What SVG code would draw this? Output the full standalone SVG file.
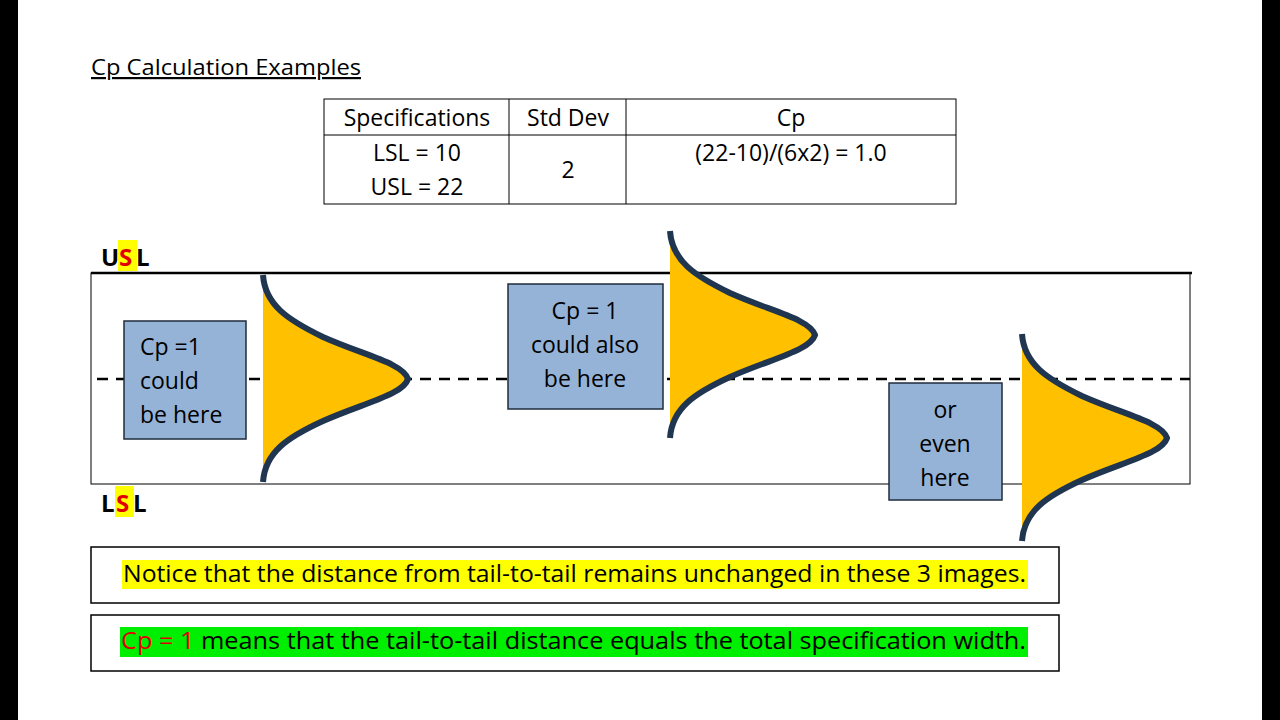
<svg xmlns="http://www.w3.org/2000/svg" width="1280" height="720" viewBox="0 0 1280 720">
<style>
text{font-family:"Open Sans","Liberation Sans",sans-serif;fill:#000}
.t{font-size:23px;text-anchor:middle}
.box{fill:#95b3d7;stroke:#1f2d3d;stroke-width:1.5}
.bell{fill:#ffc000}
.bs{fill:none;stroke:#1f3550;stroke-width:6;stroke-linecap:butt}
.cell{fill:#fff;stroke:#000;stroke-width:1}
.lim{font-size:24px;font-weight:bold}
</style>
<defs>
<path id="bf" d="M0,0 C2,30 25,45 60,62 C100,80 140,88 145,104 C140,120 100,128 60,146 C25,162 2,177 0,207 Z"/>
<path id="bl" d="M0,0 C2,30 25,45 60,62 C100,80 140,88 145,104 C140,120 100,128 60,146 C25,162 2,177 0,207"/>
</defs>
<rect width="1280" height="720" fill="#fff"/>
<rect x="0" y="0" width="18" height="720" fill="#000"/>
<rect x="1262" y="0" width="18" height="720" fill="#000"/>
<text x="91" y="75" font-size="22" text-decoration="underline" textLength="270" lengthAdjust="spacingAndGlyphs">Cp Calculation Examples</text>
<g id="table">
<rect class="cell" x="324" y="99" width="632" height="105"/>
<line x1="324" y1="135" x2="956" y2="135" stroke="#000"/>
<line x1="509" y1="99" x2="509" y2="204" stroke="#000"/>
<line x1="626" y1="99" x2="626" y2="204" stroke="#000"/>
<text class="t" x="417" y="126">Specifications</text>
<text class="t" x="568" y="126">Std Dev</text>
<text class="t" x="791" y="126">Cp</text>
<text class="t" x="417" y="161">LSL = 10</text>
<text class="t" x="417" y="195">USL = 22</text>
<text class="t" x="568" y="178">2</text>
<text class="t" x="791" y="161">(22-10)/(6x2) = 1.0</text>
</g>
<g id="spec">
<rect x="91" y="273" width="1099" height="211" fill="none" stroke="#000" stroke-width="1"/>
<line x1="91" y1="273" x2="1192" y2="273" stroke="#000" stroke-width="2.5"/>
<line x1="97" y1="379" x2="1190" y2="379" stroke="#000" stroke-width="2.5" stroke-dasharray="11,8"/>
<rect x="118" y="240" width="19" height="31" fill="#ffff00"/>
<text class="lim" y="266"><tspan x="101">U</tspan><tspan x="119" fill="#e00000">S</tspan><tspan x="136">L</tspan></text>
<rect x="115" y="486" width="19" height="31" fill="#ffff00"/>
<text class="lim" y="512"><tspan x="101">L</tspan><tspan x="116" fill="#e00000">S</tspan><tspan x="133">L</tspan></text>
</g>
<g id="bell1" transform="translate(263,275)"><use href="#bf" class="bell"/><use href="#bl" class="bs"/></g>
<g id="bell2" transform="translate(670,231)"><use href="#bf" class="bell"/><use href="#bl" class="bs"/></g>
<g id="bell3" transform="translate(1022,334)"><use href="#bf" class="bell"/><use href="#bl" class="bs"/></g>
<g id="box1"><rect class="box" x="124" y="321" width="122" height="118"/>
<text x="140" y="355" font-size="23">Cp =1</text><text x="140" y="389" font-size="23">could</text><text x="140" y="423" font-size="23">be here</text></g>
<g id="box2"><rect class="box" x="508" y="284" width="155" height="125"/>
<text class="t" x="585" y="319">Cp = 1</text><text class="t" x="585" y="353">could also</text><text class="t" x="585" y="387">be here</text></g>
<g id="box3"><rect class="box" x="889" y="383" width="113" height="117"/>
<text class="t" x="945" y="418">or</text><text class="t" x="945" y="452">even</text><text class="t" x="945" y="486">here</text></g>
<g id="note1"><rect x="91" y="547" width="968" height="56" fill="#fff" stroke="#000" stroke-width="1.5"/>
<rect x="122" y="560" width="906" height="29" fill="#ffff00"/>
<text x="123" y="582" font-size="23" textLength="903" lengthAdjust="spacingAndGlyphs">Notice that the distance from tail-to-tail remains unchanged in these 3 images.</text></g>
<g id="note2"><rect x="91" y="615" width="968" height="56" fill="#fff" stroke="#000" stroke-width="1.5"/>
<rect x="120" y="627" width="908" height="30" fill="#00ee00"/>
<text x="121" y="649" font-size="23" textLength="905" lengthAdjust="spacingAndGlyphs"><tspan fill="#e00000">Cp = 1</tspan> means that the tail-to-tail distance equals the total specification width.</text></g>
</svg>
